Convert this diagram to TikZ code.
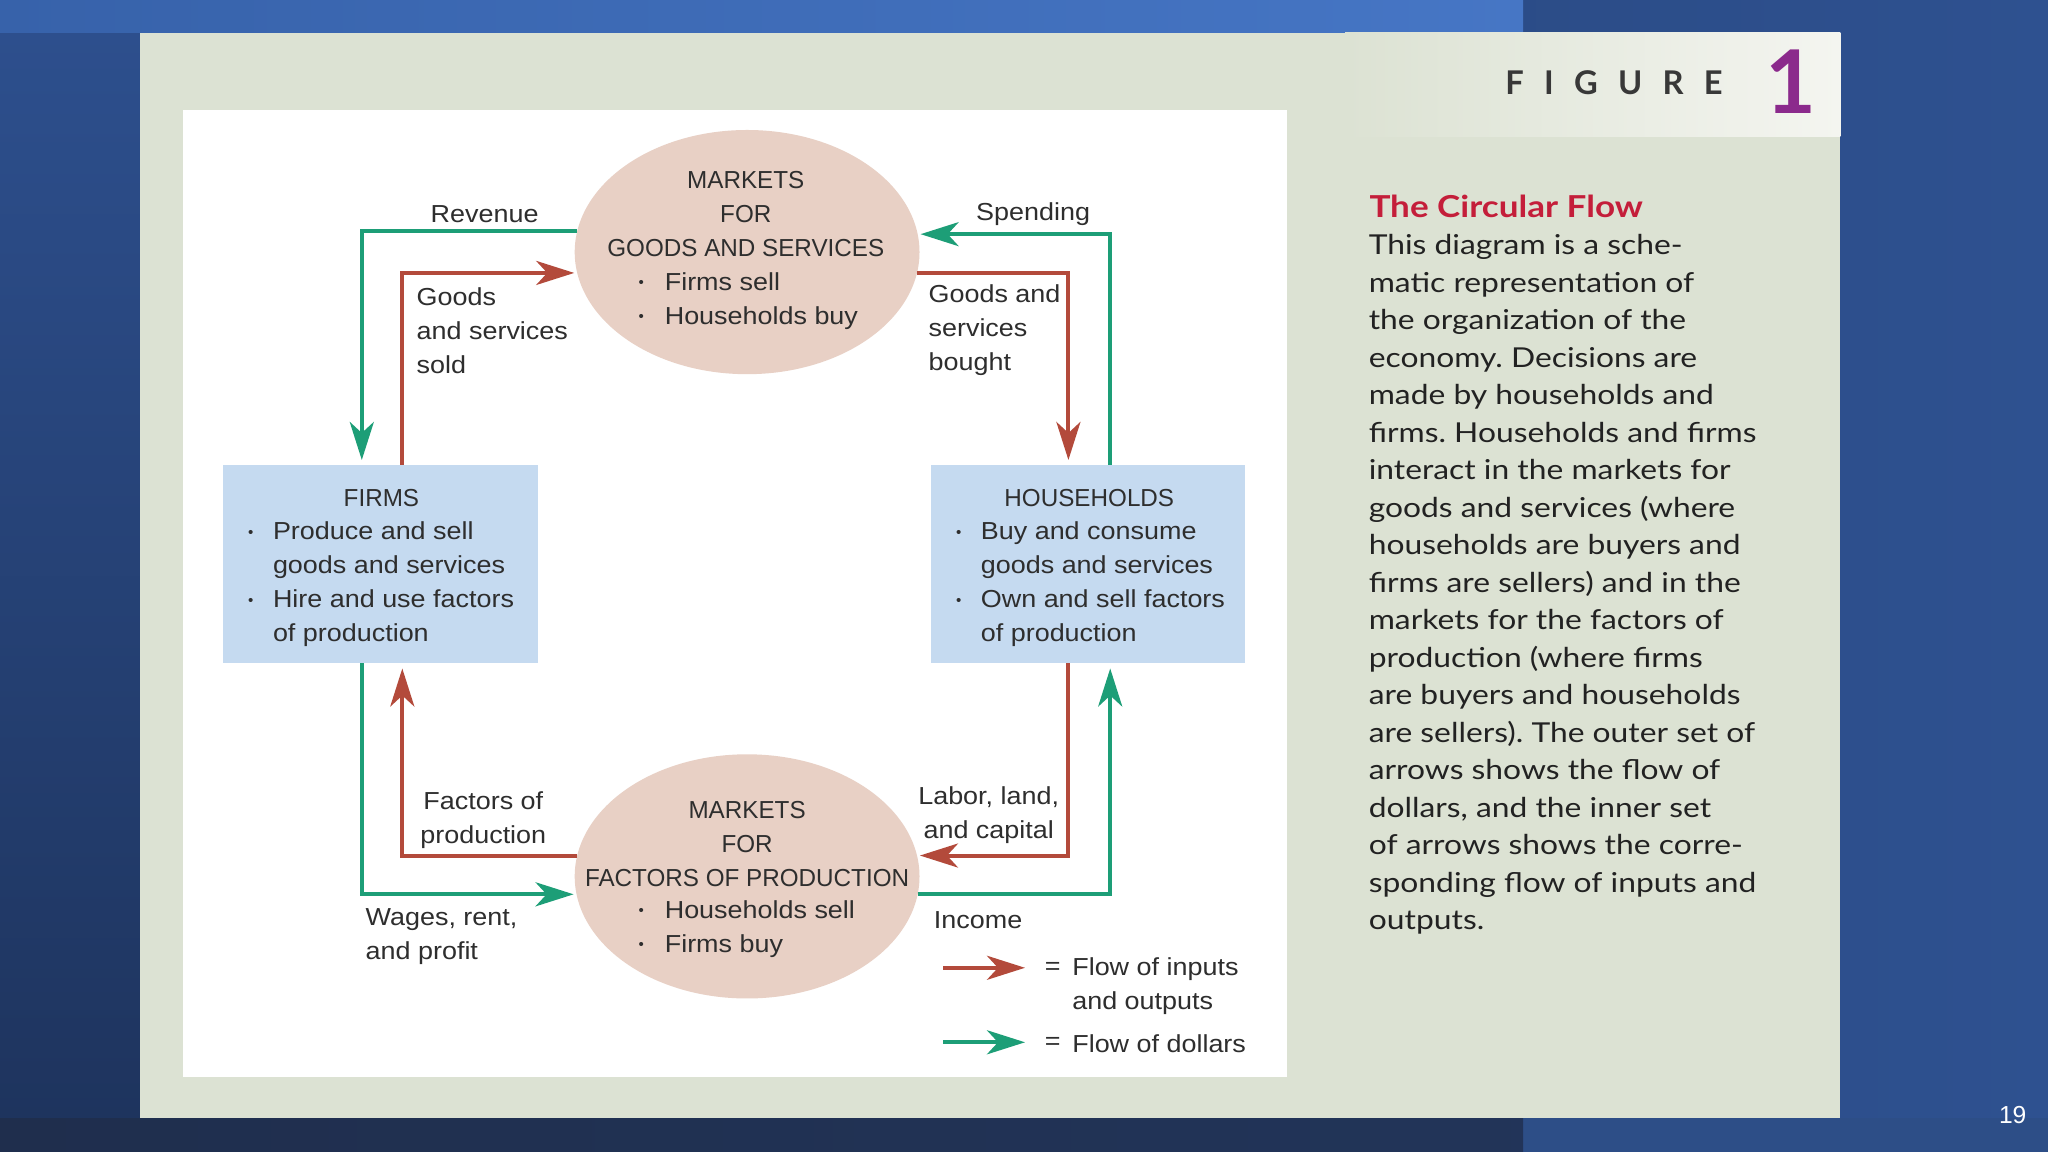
\documentclass[tikz,border=0pt]{standalone}
\usepackage{fontspec}
\setmainfont{Liberation Sans}
\newfontfamily\dfont[FakeStretch=1.095]{Liberation Sans}
\newfontfamily\capfont[FakeStretch=0.985]{Liberation Sans}
\newfontfamily\pfont[FakeStretch=1.16]{Lato}
\newfontfamily\latofont{Lato}
\newfontfamily\figfont[LetterSpace=62]{Lato}
\usetikzlibrary{arrows.meta,shapes.geometric}
\definecolor{grn}{HTML}{1D9E77}
\definecolor{rdd}{HTML}{B34A3B}
\definecolor{ellc}{HTML}{E8D0C5}
\definecolor{boxc}{HTML}{C5DAF0}
\definecolor{panel}{HTML}{DCE2D3}
\definecolor{hdr}{HTML}{F4F5F0}
\definecolor{txt}{HTML}{2E2E2E}
\definecolor{ptxt}{HTML}{222222}
\definecolor{ttl}{HTML}{C41E3A}
\definecolor{figone}{HTML}{8B2A8C}
\definecolor{bgL}{HTML}{243F70}
\definecolor{bgR}{HTML}{2E5190}
\definecolor{stripL}{HTML}{3762AA}
\definecolor{stripR}{HTML}{4676C5}
\definecolor{botL}{HTML}{1F2E4D}
\definecolor{botR}{HTML}{2D4E87}
\definecolor{colT}{HTML}{2D4F8D}
\definecolor{colB}{HTML}{1E345E}
\frenchspacing
\begin{document}
\begin{tikzpicture}[x=0.1mm, y=-0.1mm,
  lbl/.style={font=\dfont\fontsize{7}{9.67}\selectfont, text=txt, inner sep=0, outer sep=0},
  caps/.style={font=\capfont\fontsize{7}{9.67}\selectfont, text=txt, inner sep=0, outer sep=0},
  dot/.style={font=\fontsize{4.3}{9.67}\selectfont, text=txt, inner sep=0, outer sep=0},
  mkt/.style={ellipse, fill=ellc, minimum width=34.48mm, minimum height=24.42mm, inner sep=0, outer sep=0},
  sector/.style={rectangle, fill=boxc, minimum width=31.45mm, minimum height=19.85mm, inner sep=0, outer sep=0},
  flow/.style={line width=1.15pt, -{Stealth[length=3.8mm, width=2.4mm, inset=1.1mm]}},
  money/.style={flow, draw=grn},
  goods/.style={flow, draw=rdd},
  para/.style={font=\pfont\fontsize{7.8}{10.67}\selectfont, text=ptxt, inner sep=0, outer sep=0}
]
\useasboundingbox (0,0) rectangle (2048,1152);
% background
\shade[left color=bgL, right color=bgR] (0,0) rectangle (2048,1152);
\shade[top color=colT, bottom color=colB] (0,33) rectangle (140,1118);
\shade[left color=stripL, right color=stripR] (0,0) rectangle (1523,33);
\fill[botR] (1523,1118) rectangle (2048,1152);
\shade[left color=botL, right color=botL!80!botR] (0,1118) rectangle (1523,1152);
% panel
\fill[panel] (139.8,32.7) rectangle (1840.3,1118);
\shade[left color=panel, right color=hdr] (1345,32.7) rectangle (1840.3,137);
\fill[white] (182.9,109.7) rectangle (1286.5,1077.5);

% header
\node[font=\figfont\bfseries\fontsize{9.3}{10}\selectfont, text=ptxt!90!white, anchor=west, inner sep=0] (figword) at (1504.6,82.3) {FIGURE};
\node[font=\latofont\bfseries\fontsize{25}{25}\selectfont, text=figone, inner sep=0] (fignum) at (1791,81.6) {1};

% markets
\node[mkt] (mg) at (747.1,252.1) {};
\node[mkt] (mf) at (747.1,876.4) {};
\node[sector] (firms) at (380.7,564.25) {};
\node[sector] (hh) at (1088,564.25) {};

% ellipse texts
\node[caps, align=center] (mgt) at (745.8,214.5) {MARKETS\\FOR\\GOODS AND SERVICES};
\node[dot, align=center] (mgb) at (641.3,300.5) {•\\•};
\node[lbl, align=left, anchor=west] (mgl) at (664.8,301) {Firms sell\\Households buy};
\node[caps, align=center] (mft) at (747.1,844.5) {MARKETS\\FOR\\FACTORS OF PRODUCTION};
\node[dot, align=center] (mfb) at (641.3,928.8) {•\\•};
\node[lbl, align=left, anchor=west] (mfl) at (664.8,929.4) {Households sell\\Firms buy};

% box texts
\node[caps] (firmst) at (381.4,498.3) {FIRMS};
\node[dot] (firmsb1) at (250.8,533.6) {•};
\node[dot] (firmsb2) at (250.8,601.5) {•};
\node[lbl, align=left, anchor=west] (firmsl) at (273,584.4) {Produce and sell\\goods and services\\Hire and use factors\\of production};
\node[caps] (hht) at (1089.3,498.3) {HOUSEHOLDS};
\node[dot] (hhb1) at (958.7,533.6) {•};
\node[dot] (hhb2) at (958.7,601.5) {•};
\node[lbl, align=left, anchor=west] (hhl) at (980.9,584.4) {Buy and consume\\goods and services\\Own and sell factors\\of production};

% connector x-lines
\coordinate (gl) at (361.8,0);
\coordinate (rl) at (402.3,0);
\coordinate (rr) at (1068.4,0);
\coordinate (gr) at (1110.2,0);

\draw[money, shorten >=0.5mm] (mg.173.4) -| (gl |- firms.north);
\draw[goods, shorten >=0.3mm] (firms.north -| rl) |- (mg.187);
\draw[money, shorten >=0.3mm] (hh.north -| gr) |- (mg.6.6);
\draw[goods, shorten >=0.5mm] (mg.-7) -| (rr |- hh.north);
\draw[goods, shorten >=0.5mm] (mf.173) -| (rl |- firms.south);
\draw[money, shorten >=0.3mm] (firms.south -| gl) |- (mf.186.6);
\draw[goods, shorten >=0.3mm] (hh.south -| rr) |- (mf.7);
\draw[money, shorten >=0.5mm] (mf.-6.6) -| (gr |- hh.south);

% labels
\node[lbl] (rev) at (484.6,214.5) {Revenue};
\node[lbl] (spend) at (1033.1,214.5) {Spending};
\node[lbl, align=left, anchor=west] (gss) at (416.7,330.5) {Goods\\and services\\sold};
\node[lbl, align=left, anchor=west] (gsb) at (928.6,330.5) {Goods and\\services\\bought};
\node[lbl, align=center] (fop) at (483.3,820.5) {Factors of\\production};
\node[lbl, align=center] (llc) at (988.7,815.3) {Labor, land,\\and capital};
\node[lbl, align=left, anchor=west] (wrp) at (365.7,936.8) {Wages, rent,\\and profit};
\node[lbl, anchor=west] (inc) at (933.9,919.8) {Income};

% legend
\coordinate (l1a) at (943,967.8);
\coordinate (l1b) at (1025,967.8);
\coordinate (l2a) at (943,1042.3);
\coordinate (l2b) at (1025,1042.3);
\draw[goods] (l1a) -- (l1b);
\draw[money] (l2a) -- (l2b);
\node[lbl] (eq1) at (1052.7,968.8) {=};
\node[lbl] (eq2) at (1052.7,1043.3) {=};
\node[lbl, align=left, anchor=west] (leg1) at (1072.3,986.4) {Flow of inputs\\and outputs};
\node[lbl, anchor=west] (leg2) at (1072.3,1043.9) {Flow of dollars};

% right text
\node[font=\pfont\bfseries\fontsize{8.6}{10}\selectfont, text=ttl, anchor=west, inner sep=0] (title) at (1368.8,206.5) {The Circular Flow};
\node[para, align=left, anchor=west] (body) at (1368.8,584.3) {This diagram is a sche-\\matic representation of\\the organization of the\\economy. Decisions are\\made by households and\\firms. Households and firms\\interact in the markets for\\goods and services (where\\households are buyers and\\firms are sellers) and in the\\markets for the factors of\\production (where firms\\are buyers and households\\are sellers). The outer set of\\arrows shows the flow of\\dollars, and the inner set\\of arrows shows the corre-\\sponding flow of inputs and\\outputs.};

% page number
\node[font=\fontsize{7}{8}\selectfont, text=white, inner sep=0] (pnum) at (2012.7,1115.4) {19};
\end{tikzpicture}
\end{document}
